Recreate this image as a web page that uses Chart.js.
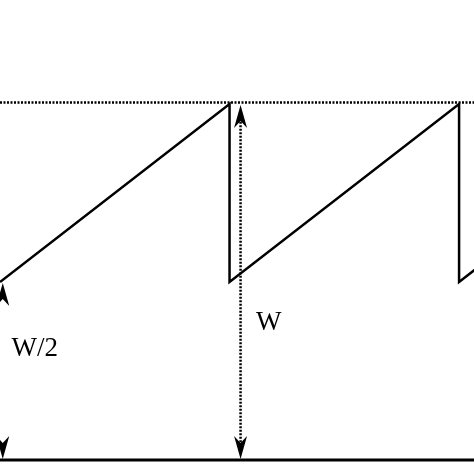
<!DOCTYPE html>
<html>
<head>
<meta charset="utf-8">
<script src="https://cdn.jsdelivr.net/npm/chart.js@4/dist/chart.umd.min.js"></script>
<style>
  html, body { margin: 0; padding: 0; background: #fff; }
  canvas { display: block; }
</style>
</head>
<body>
<canvas id="sawChart" width="474" height="474"></canvas>
<script>
// Sawtooth of the window size: time in periods, window as a fraction of W
const sawX = [0, 1, 1, 2, 2, 2.1];
const sawY = [0.5, 1, 0.5, 1, 0.5, 0.55];

// Reference lines: W level (dotted) and zero level (solid)
const levelX = [0, 2.07];
const topLevel = [1.004, 1.004];
const baseLevel = [0, 0];

// Double arrows: position, top tip, bottom tip
const arrowX = [1.048, 0.012];
const arrowTop = [1, 0.5];
const arrowBottom = [0, 0];

// Annotation labels
const labelText = ['W', 'W/2'];
const labelX = [1.115, 0.05];
const labelY = [0.385, 0.312];

const X_MIN = 0, X_MAX = 2.065;
const Y_MIN = -0.0393, Y_MAX = 1.292;

function pairs(xs, ys) {
    return xs.map((x, i) => ({ x: x, y: ys[i] }));
}

// Draws arrow heads and the text labels on top of the lines
const annotate = {
    id: 'annotate',
    afterDatasetsDraw(chart) {
        const ctx = chart.ctx;
        const xs = chart.scales.x;
        const ys = chart.scales.y;
        ctx.save();
        ctx.fillStyle = '#000';

        function head(px, py, dir) {
            // dir = -1 points up, 1 points down
            ctx.beginPath();
            ctx.moveTo(px, py);
            ctx.lineTo(px - 6.5, py - dir * 23);
            ctx.lineTo(px, py - dir * 16);
            ctx.lineTo(px + 6.5, py - dir * 23);
            ctx.closePath();
            ctx.fill();
        }

        arrowX.forEach((ax, i) => {
            const px = xs.getPixelForValue(ax);
            head(px, ys.getPixelForValue(arrowTop[i]) + 1, -1);
            head(px, ys.getPixelForValue(arrowBottom[i]) - 1, 1);
        });

        ctx.font = '27px "Liberation Serif", "Times New Roman", serif';
        ctx.textBaseline = 'middle';
        ctx.textAlign = 'left';
        labelText.forEach((t, i) => {
            ctx.fillText(t, xs.getPixelForValue(labelX[i]), ys.getPixelForValue(labelY[i]));
        });
        ctx.restore();
    }
};

document.addEventListener('DOMContentLoaded', function() {
    const ctx = document.getElementById('sawChart').getContext('2d');
    new Chart(ctx, {
        type: 'line',
        data: {
            datasets: [
                {
                    data: pairs(sawX, sawY),
                    borderColor: '#000',
                    borderWidth: 2.5,
                    pointRadius: 0,
                    tension: 0
                },
                {
                    data: pairs(levelX, topLevel),
                    borderColor: '#000',
                    borderWidth: 2.5,
                    borderDash: [2, 1.5],
                    pointRadius: 0
                },
                {
                    data: pairs(levelX, baseLevel),
                    borderColor: '#000',
                    borderWidth: 3,
                    pointRadius: 0
                },
                {
                    data: pairs([arrowX[0], arrowX[0]], [arrowTop[0] - 0.04, arrowBottom[0] + 0.04]),
                    borderColor: '#000',
                    borderWidth: 2.5,
                    borderDash: [2, 1.5],
                    pointRadius: 0
                }
            ]
        },
        options: {
            responsive: false,
            animation: false,
            devicePixelRatio: 1,
            layout: { padding: 0 },
            plugins: {
                legend: { display: false },
                tooltip: { enabled: false }
            },
            scales: {
                x: { type: 'linear', min: X_MIN, max: X_MAX, display: false },
                y: { type: 'linear', min: Y_MIN, max: Y_MAX, display: false }
            }
        },
        plugins: [annotate]
    });
});
</script>
</body>
</html>
